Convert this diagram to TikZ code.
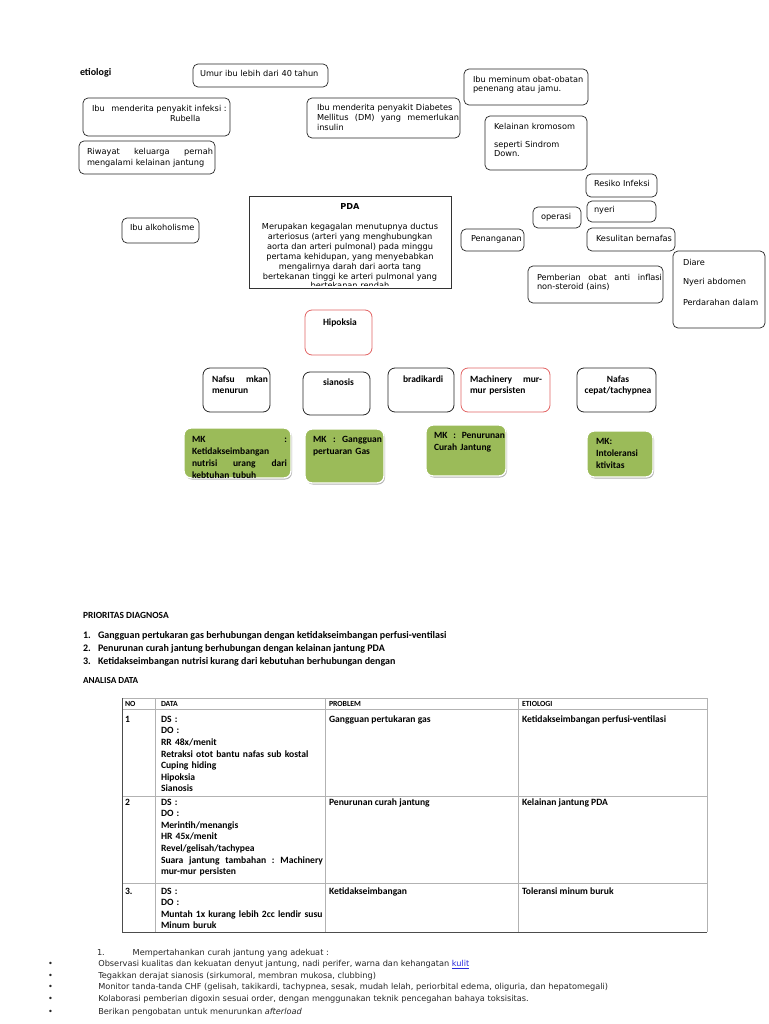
\documentclass[tikz,border=0pt]{standalone}
\usepackage{fontspec}
\setmainfont{DejaVu Sans}
\newfontfamily\calib{Carlito}
\usetikzlibrary{shadows}
\definecolor{mkgreen}{RGB}{155,187,89}
\definecolor{redb}{RGB}{226,100,100}
\definecolor{linkb}{RGB}{40,40,220}
\newcommand\fvz{\fontsize{8.2}{9.6}\selectfont}
\newcommand\fcb{\calib\bfseries\fontsize{9.5}{11.8}\selectfont}
\newcommand\ftb{\calib\bfseries\fontsize{9.6}{11.6}\selectfont}
\newcommand\fbl{\fontsize{8.2}{11.6}\selectfont}
\newcommand\mkbox[6]{\node[#2, minimum width={(#5-#3)*1pt}, minimum height={(#6-#4)*1pt}] (#1) at ({(#3+#5)/2},{(#4+#6)/2}) {};}
\tikzset{
  rb/.style={draw=black!85, line width=0.7pt, rounded corners=5pt, inner sep=0pt, outer sep=0pt},
  rm/.style={draw=black!85, line width=0.8pt, rounded corners=7pt, inner sep=0pt, outer sep=0pt},
  rr/.style={draw=redb, line width=0.8pt, rounded corners=7pt, inner sep=0pt, outer sep=0pt},
  sq/.style={draw=black!80, line width=0.8pt, inner sep=0pt, outer sep=0pt},
  gb/.style={fill=mkgreen, draw=white, line width=1.4pt, rounded corners=7pt, inner sep=0pt, outer sep=0pt,
             drop shadow={shadow xshift=1pt, shadow yshift=-1.5pt, opacity=0.3, fill=black}},
  tv/.style={anchor=base west, inner sep=0pt, outer sep=0pt, align=left, font=\fvz},
  tc/.style={anchor=base west, inner sep=0pt, outer sep=0pt, align=left, font=\fcb},
  tt/.style={anchor=base west, inner sep=0pt, outer sep=0pt, align=left, font=\ftb},
  th/.style={anchor=base west, inner sep=0pt, outer sep=0pt, font=\calib\bfseries\fontsize{7.8}{9}\selectfont},
  tp/.style={anchor=base west, inner sep=0pt, outer sep=0pt, font=\calib\bfseries\fontsize{10}{12}\selectfont},
  tb/.style={anchor=base west, inner sep=0pt, outer sep=0pt, font=\fbl, text=black!85},
  grid/.style={draw=gray!60, line width=0.8pt},
  gridd/.style={draw=black!70, line width=0.8pt}
}
\begin{document}
\begin{tikzpicture}[x=1pt,y=-1pt]
\fill[white] (0,0) rectangle (768,1024);
\useasboundingbox (0,0) rectangle (768,1024);

% ---------- etiologi boxes ----------
\node[tp] (etio) at (80,76) {etiologi};
\mkbox{umur}{rb}{193}{64}{328}{87}
\mkbox{infeksi}{rb}{83}{98}{230}{136}
\mkbox{riwayat}{rb}{79}{141}{215}{174}
\mkbox{dm}{rb}{307}{98}{460}{138}
\mkbox{alko}{rb}{122}{218}{199}{243}
\mkbox{pda}{sq}{249}{196}{451}{288}
\mkbox{obat}{rb}{464}{69}{588}{105}
\mkbox{kromo}{rb}{485}{116}{587}{170}
\mkbox{resiko}{rb}{586}{174}{657}{197}
\mkbox{nyeri}{rb}{587}{201}{656}{222}
\mkbox{operasi}{rb}{533}{207}{581}{228}
\mkbox{penanganan}{rb}{461}{229}{524}{251}
\mkbox{sulit}{rb}{587}{228}{675}{251}
\mkbox{ains}{rb}{528}{266}{663}{303}
\mkbox{diare}{rb}{673}{251}{765}{328}

\node[tv] (t-umur) at (200,77) {Umur ibu lebih dari 40 tahun};
\node[tv] (t-inf1) at (92,112) {Ibu\hspace{4pt} menderita penyakit infeksi :};
\node[tv] (t-inf2) at (170,121.5) {Rubella};
\node[tv, text width=126pt, font=\fontsize{8.2}{10.3}\selectfont] (t-riw) at (87,155) {\makebox[\linewidth][s]{Riwayat\hfill keluarga\hfill pernah}\\mengalami kelainan jantung};
\node[tv, text width=142pt, font=\fontsize{8.2}{10}\selectfont] (t-dm) at (317,111) {Ibu menderita penyakit Diabetes\\\makebox[\linewidth][s]{Mellitus\hfill (DM)\hfill yang\hfill memerlukan}\\insulin};
\node[tv] (t-alko) at (130,231) {Ibu alkoholisme};
\node[tv, anchor=base, font=\fvz\bfseries] (t-pda) at (350,209.5) {PDA};
\begin{scope}
\clip (250,197) rectangle (450,285.5);
\node[tv, anchor=base, text width=200pt, align=center, font=\fontsize{8.2}{9.9}\selectfont] (t-pdab) at (350,229.5) {Merupakan kegagalan menutupnya ductus\\arteriosus (arteri yang menghubungkan\\aorta dan arteri pulmonal) pada minggu\\pertama kehidupan, yang menyebabkan\\mengalirnya darah dari aorta tang\\bertekanan tinggi ke arteri pulmonal yang\\bertekanan rendah};
\end{scope}
\node[tv, text width=115pt, font=\fontsize{8.2}{9}\selectfont] (t-obat) at (473,82.5) {Ibu meminum obat-obatan\\penenang atau jamu.};
\node[tv, text width=95pt, font=\fontsize{8.2}{9}\selectfont] (t-kro) at (494,130) {Kelainan kromosom\\[9pt]seperti Sindrom\\Down.};
\node[tv] (t-resiko) at (594,187) {Resiko Infeksi};
\node[tv] (t-nyeri) at (594,213) {nyeri};
\node[tv] (t-operasi) at (541,220) {operasi};
\node[tv] (t-penang) at (471,241) {Penanganan};
\node[tv] (t-sulit) at (596,241) {Kesulitan bernafas};
\node[tv, text width=125pt, font=\fontsize{8.2}{9.5}\selectfont] (t-ains) at (537,280) {\makebox[\linewidth][s]{Pemberian\hfill obat\hfill anti\hfill inflasi}\\non-steroid (ains)};
\node[tv, text width=80pt, font=\fontsize{8.2}{10}\selectfont] (t-diare) at (683,265) {Diare\\[10pt]Nyeri abdomen\\[10pt]Perdarahan dalam};

% ---------- middle ----------
\mkbox{hipoksia}{rr}{305}{310}{372}{355}
\mkbox{nafsu}{rm}{203}{368}{270}{412}
\mkbox{sianosis}{rm}{303}{372}{370}{415}
\mkbox{bradi}{rm}{388}{368}{454}{412}
\mkbox{murmur}{rr}{461}{368}{550}{412}
\mkbox{nafas}{rm}{577}{368}{656}{412}
\mkbox{mk1}{gb}{184}{428}{291}{478}
\mkbox{mk2}{gb}{305}{429}{384}{483}
\mkbox{mk3}{gb}{426}{425}{506}{476}
\mkbox{mk4}{gb}{587}{431}{653}{477}

\node[tc] (t-hip) at (323,325.5) {Hipoksia};
\node[tc, text width=56pt, font=\calib\bfseries\fontsize{9.5}{11}\selectfont] (t-nafsu) at (212,382.6) {\makebox[\linewidth][s]{Nafsu\hfill mkan}\\menurun};
\node[tc] (t-sian) at (323,385.6) {sianosis};
\node[tc] (t-bradi) at (403,382.6) {bradikardi};
\node[tc, text width=72pt, font=\calib\bfseries\fontsize{9.5}{11}\selectfont] (t-mur) at (470,382.6) {\makebox[\linewidth][s]{Machinery\hfill mur-}\\mur persisten};
\node[tc, anchor=base, text width=80pt, align=center, font=\calib\bfseries\fontsize{9.5}{11}\selectfont] (t-nafas) at (618,382.6) {Nafas\\cepat/tachypnea};
\node[tc, text width=95pt] (t-mk1) at (192,442.6) {\makebox[\linewidth][s]{MK\hfill :}\\Ketidakseimbangan\\\makebox[\linewidth][s]{nutrisi\hfill urang\hfill dari}\\kebtuhan tubuh};
\node[tc, text width=69pt] (t-mk2) at (313,442.6) {\makebox[\linewidth][s]{MK\hfill :\hfill Gangguan}\\pertuaran Gas};
\node[tc, text width=71pt] (t-mk3) at (434,438.6) {\makebox[\linewidth][s]{MK\hfill :\hfill Penurunan}\\Curah Jantung};
\node[tc, text width=60pt] (t-mk4) at (596,444.6) {MK:\\Intoleransi\\ktivitas};

% ---------- prioritas diagnosa ----------
\node[tp, font=\calib\bfseries\fontsize{9.4}{12}\selectfont] (prio) at (83,618) {PRIORITAS DIAGNOSA};
\node[tp] (p1n) at (83,638) {1.};
\node[tp] (p1) at (98,638) {Gangguan pertukaran gas berhubungan dengan ketidakseimbangan perfusi-ventilasi};
\node[tp] (p2n) at (83,651) {2.};
\node[tp] (p2) at (98,651) {Penurunan curah jantung berhubungan dengan kelainan jantung PDA};
\node[tp] (p3n) at (83,664) {3.};
\node[tp] (p3) at (98,664) {Ketidakseimbangan nutrisi kurang dari kebutuhan berhubungan dengan};
\node[tp, font=\calib\bfseries\fontsize{9.2}{12}\selectfont] (analisa) at (83,683) {ANALISA DATA};

% ---------- table ----------
\draw[grid] (122,698) -- (707,698) -- (707,932);
\draw[grid] (122,709) -- (707,709);
\draw[grid] (122,796) -- (707,796);
\draw[grid] (122,883) -- (707,883);
\draw[grid] (155,698) -- (155,932);
\draw[grid] (325,698) -- (325,932);
\draw[grid] (518,698) -- (518,932);
\draw[gridd] (122,698) -- (122,932) -- (707,932);

\node[th] (h-no) at (125,706.5) {NO};
\node[th] (h-data) at (161,706.5) {DATA};
\node[th] (h-prob) at (329,706.5) {PROBLEM};
\node[th] (h-etio) at (522,706.5) {ETIOLOGI};

\node[tt] (n1) at (125,722.3) {1};
\node[tt] (n2) at (125,805) {2};
\node[tt] (n3) at (125,894) {3.};
\node[tt, text width=162pt] (d1) at (161,722.3) {DS :\\DO :\\RR 48x/menit\\Retraksi otot bantu nafas sub kostal\\Cuping hiding\\Hipoksia\\Sianosis};
\node[tt, text width=162pt] (d2) at (161,805) {DS :\\DO :\\Merintih/menangis\\HR 45x/menit\\Revel/gelisah/tachypea\\\makebox[\linewidth][s]{Suara\hfill jantung\hfill tambahan\hfill :\hfill Machinery}\\mur-mur persisten};
\node[tt, text width=162pt] (d3) at (161,894) {DS :\\DO :\\Muntah 1x kurang lebih 2cc lendir susu\\Minum buruk};
\node[tt] (pr1) at (329,722.3) {Gangguan pertukaran gas};
\node[tt] (pr2) at (329,805) {Penurunan curah jantung};
\node[tt] (pr3) at (329,894) {Ketidakseimbangan};
\node[tt] (e1) at (522,722.3) {Ketidakseimbangan perfusi-ventilasi};
\node[tt] (e2) at (522,805) {Kelainan jantung PDA};
\node[tt] (e3) at (522,894) {Toleransi minum buruk};

% ---------- bottom list ----------
\node[tb] (l0n) at (97,955.2) {1.};
\node[tb] (l0) at (132.7,955.2) {Mempertahankan curah jantung yang adekuat :};
\node[tb] (b1) at (48,966.5) {•};
\node[tb] (l1) at (98.3,966.5) {Observasi kualitas dan kekuatan denyut jantung, nadi perifer, warna dan kehangatan {\color{linkb}\underline{kulit}}};
\node[tb] (b2) at (48,978.2) {•};
\node[tb] (l2) at (98.3,978.2) {Tegakkan derajat sianosis (sirkumoral, membran mukosa, clubbing)};
\node[tb] (b3) at (48,989.8) {•};
\node[tb] (l3) at (98.3,989.8) {Monitor tanda-tanda CHF (gelisah, takikardi, tachypnea, sesak, mudah lelah, periorbital edema, oliguria, dan hepatomegali)};
\node[tb] (b4) at (48,1001.5) {•};
\node[tb] (l4) at (98.3,1001.5) {Kolaborasi pemberian digoxin sesuai order, dengan menggunakan teknik pencegahan bahaya toksisitas.};
\node[tb] (b5) at (48,1014.2) {•};
\node[tb] (l5) at (98.3,1014.2) {Berikan pengobatan untuk menurunkan \textit{afterload}};
\end{tikzpicture}
\end{document}
